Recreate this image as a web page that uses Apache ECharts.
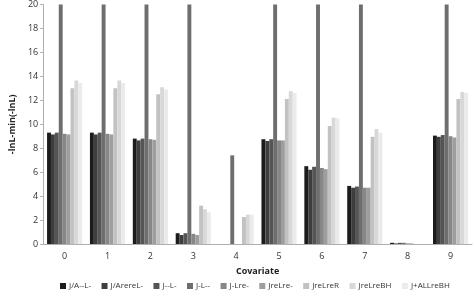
<!DOCTYPE html>
<html>
<head>
<meta charset="utf-8">
<script src="https://cdn.jsdelivr.net/npm/echarts@6/dist/echarts.min.js"></script>
<style>
  html, body { margin: 0; padding: 0; background: #fff; }
  #chart { width: 474px; height: 297px; }
</style>
</head>
<body>
<div id="chart"></div>
<script>
// categories on the x axis
const covariates = ['0', '1', '2', '3', '4', '5', '6', '7', '8', '9']
const seriesNames = ['J/A--L-', 'J/ArereL-', 'J--L-', 'J-L--', 'J-Lre-', 'JreLre-', 'JreLreR', 'JreLreBH', 'J+ALLreBH']

// one array per model, values per covariate
const jAL      = [9.3, 9.3, 8.8, 0.9, 0, 8.75, 6.5, 4.85, 0.1, 9.05]
const jArereL  = [9.15, 9.15, 8.65, 0.75, 0, 8.6, 6.2, 4.7, 0.05, 8.95]
const jL       = [9.3, 9.3, 8.8, 0.9, 0, 8.75, 6.45, 4.8, 0.1, 9.1]
const jLdash   = [20, 20, 20, 20, 7.4, 20, 20, 20, 0.1, 20]
const jLre     = [9.2, 9.2, 8.75, 0.85, 0, 8.65, 6.35, 4.7, 0.05, 9.0]
const jreLre   = [9.15, 9.15, 8.7, 0.75, 0, 8.65, 6.25, 4.7, 0.05, 8.9]
const jreLreR  = [13.0, 13.0, 12.5, 3.2, 2.25, 12.1, 9.85, 8.95, 0, 12.1]
const jreLreBH = [13.65, 13.65, 13.1, 2.9, 2.45, 12.75, 10.55, 9.6, 0, 12.7]
const jAllreBH = [13.45, 13.45, 12.9, 2.65, 2.45, 12.6, 10.5, 9.3, 0, 12.6]

const allValues = [jAL, jArereL, jL, jLdash, jLre, jreLre, jreLreR, jreLreBH, jAllreBH]
const colors = ['#1c1c1c', '#3e3e3e', '#555555', '#6e6e6e', '#878787', '#9e9e9e', '#c2c2c2', '#d8d8d8', '#ebebeb']

const dom = echarts.init(document.getElementById('chart'))
const option = {
  animation: false,
  textStyle: { fontFamily: 'Open Sans, Liberation Sans, sans-serif' },
  legend: {
    bottom: 2,
    left: 55,
    itemWidth: 6,
    itemHeight: 6,
    itemGap: 10.5,
    icon: 'rect',
    textStyle: { fontSize: 8, color: '#333', padding: [0, 0, 0, -2] },
    data: seriesNames
  },
  grid: { left: 28, right: 2, top: 4, bottom: 53 },
  xAxis: {
    type: 'category',
    data: covariates,
    name: 'Covariate',
    nameLocation: 'middle',
    nameGap: 23,
    nameTextStyle: { fontSize: 9, fontWeight: 'bold', color: '#222' },
    axisLine: { lineStyle: { color: '#b0b0b0' } },
    axisTick: { lineStyle: { color: '#b0b0b0' }, length: 3 },
    axisLabel: { fontSize: 9, color: '#333', margin: 8 }
  },
  yAxis: {
    type: 'value',
    min: 0,
    max: 20,
    interval: 2,
    name: '-lnL-min(-lnL)',
    nameLocation: 'middle',
    nameGap: 22,
    nameTextStyle: { fontSize: 9, fontWeight: 'bold', color: '#222' },
    axisLine: { show: true, lineStyle: { color: '#b0b0b0' } },
    axisTick: { show: true, lineStyle: { color: '#b0b0b0' }, length: 3 },
    axisLabel: { fontSize: 9, color: '#333', margin: 5 },
    splitLine: { show: false }
  },
  series: seriesNames.map((name, i) => ({
    name: name,
    type: 'bar',
    data: allValues[i],
    color: colors[i],
    barGap: '0%',
    barCategoryGap: '18%'
  }))
}
dom.setOption(option)
</script>
</body>
</html>
